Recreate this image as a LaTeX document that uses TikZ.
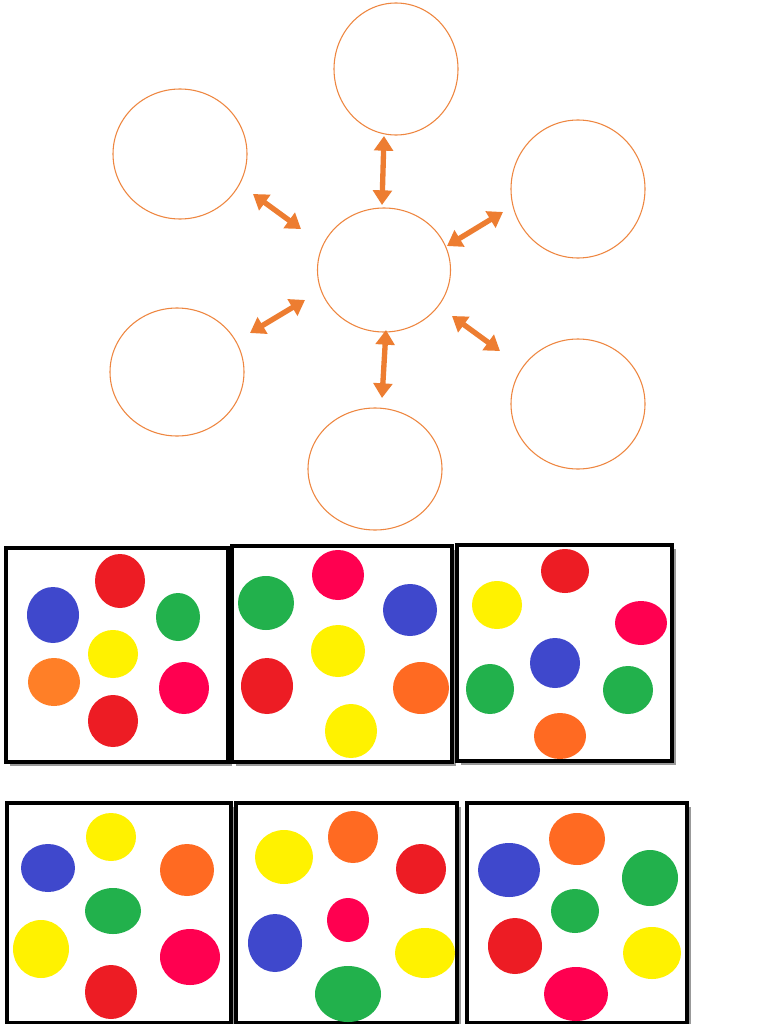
\documentclass[tikz,border=0pt]{standalone}
\usetikzlibrary{arrows.meta,shapes.geometric}
\definecolor{lineorange}{HTML}{EE8640}
\definecolor{arrorange}{HTML}{ED7D31}
\definecolor{cred}{HTML}{ED1C24}
\definecolor{cblue}{HTML}{3F48CC}
\definecolor{cgreen}{HTML}{22B14C}
\definecolor{cyellow}{HTML}{FFF200}
\definecolor{corange}{HTML}{FF7F27}
\definecolor{corangeb}{HTML}{FF6A22}
\definecolor{cpink}{HTML}{FF0050}
\newcommand{\dt}[5]{\fill[#1] (#2,#3) ellipse [x radius=#4*0.75pt, y radius=#5*0.75pt];}
\newcommand{\frm}[5]{%
  \fill[black!40] (#2+3.5,#3+3.5) rectangle (#4+3.5,#5+3.5);
  \node[framebox, minimum width={(#4-#2)*0.75pt}, minimum height={(#5-#3)*0.75pt}] (#1) at ({(#2+#4)/2},{(#3+#5)/2}) {};}
\tikzset{
  bubble/.style={draw=lineorange, line width=0.8pt, ellipse, inner sep=0pt, outer sep=0pt},
  dblarrow/.style={draw=arrorange, line width=4pt, {Triangle[width=14pt,length=11pt]}-{Triangle[width=14pt,length=11pt]}},
  framebox/.style={draw=black, fill=white, line width=2.4pt, inner sep=0pt, outer sep=0pt}
}
\begin{document}
\begin{tikzpicture}[x=0.75pt,y=-0.75pt]
\useasboundingbox[fill=white] (0,0) rectangle (768,1024);
% bubbles
\node[bubble, minimum width={124*0.75pt}, minimum height={132*0.75pt}] (top) at (396,69) {};
\node[bubble, minimum width={134*0.75pt}, minimum height={130*0.75pt}] (tl) at (180,154) {};
\node[bubble, minimum width={134*0.75pt}, minimum height={138*0.75pt}] (tr) at (578,189) {};
\node[bubble, minimum width={133*0.75pt}, minimum height={124*0.75pt}] (ctr) at (384,270) {};
\node[bubble, minimum width={134*0.75pt}, minimum height={128*0.75pt}] (bl) at (177,372) {};
\node[bubble, minimum width={134*0.75pt}, minimum height={130*0.75pt}] (br) at (578,404) {};
\node[bubble, minimum width={134*0.75pt}, minimum height={122*0.75pt}] (bot) at (375,469) {};
% arrow ends
\coordinate (at1) at (384,136); \coordinate (at2) at (382,205);
\coordinate (atl1) at (253,194); \coordinate (atl2) at (301,229);
\coordinate (atr1) at (503,212); \coordinate (atr2) at (447,246);
\coordinate (abl1) at (305,300); \coordinate (abl2) at (250,333);
\coordinate (abr1) at (452,316); \coordinate (abr2) at (500,351);
\coordinate (ab1) at (386,330); \coordinate (ab2) at (382,398);
\draw[dblarrow] (at1) -- (at2);
\draw[dblarrow] (atl1) -- (atl2);
\draw[dblarrow] (atr1) -- (atr2);
\draw[dblarrow] (abl1) -- (abl2);
\draw[dblarrow] (abr1) -- (abr2);
\draw[dblarrow] (ab1) -- (ab2);
% frames
\frm{f1}{6}{548}{228}{762}
\frm{f2}{232}{546}{452}{762}
\frm{f3}{457}{545}{672}{761}
\frm{f4}{7}{803}{231}{1023}
\frm{f5}{236}{803}{457}{1023}
\frm{f6}{467}{803}{687}{1023}
% box 1
\dt{cblue}{53}{615}{26}{28}
\dt{cred}{120}{581}{25}{27}
\dt{cgreen}{178}{617}{22}{24}
\dt{cyellow}{113}{654}{25}{24}
\dt{corange}{54}{682}{26}{24}
\dt{cpink}{184}{688}{25}{26}
\dt{cred}{113}{721}{25}{26}
% box 2
\dt{cgreen}{266}{603}{28}{27}
\dt{cpink}{338}{575}{26}{25}
\dt{cblue}{410}{610}{27}{26}
\dt{cyellow}{338}{651}{27}{26}
\dt{cred}{267}{686}{26}{28}
\dt{corangeb}{421}{688}{28}{26}
\dt{cyellow}{351}{731}{26}{27}
% box 3
\dt{cred}{565}{571}{24}{22}
\dt{cyellow}{497}{605}{25}{24}
\dt{cpink}{641}{623}{26}{22}
\dt{cblue}{555}{663}{25}{25}
\dt{cgreen}{490}{689}{24}{25}
\dt{cgreen}{628}{690}{25}{24}
\dt{corangeb}{560}{736}{26}{23}
% box 4
\dt{cyellow}{111}{837}{25}{24}
\dt{cblue}{48}{868}{27}{24}
\dt{corangeb}{187}{870}{27}{26}
\dt{cgreen}{113}{911}{28}{23}
\dt{cyellow}{41}{949}{28}{29}
\dt{cpink}{190}{957}{30}{28}
\dt{cred}{111}{992}{26}{27}
% box 5
\dt{cyellow}{284}{857}{29}{27}
\dt{corangeb}{353}{837}{25}{26}
\dt{cred}{421}{869}{25}{25}
\dt{cpink}{348}{920}{21}{22}
\dt{cblue}{275}{943}{27}{29}
\dt{cyellow}{425}{953}{30}{25}
\dt{cgreen}{348}{994}{33}{28}
% box 6
\dt{corangeb}{577}{839}{28}{26}
\dt{cblue}{509}{870}{31}{27}
\dt{cgreen}{650}{878}{28}{28}
\dt{cgreen}{575}{911}{24}{22}
\dt{cred}{515}{946}{27}{28}
\dt{cyellow}{652}{953}{29}{26}
\dt{cpink}{576}{994}{32}{27}
\end{tikzpicture}
\end{document}
